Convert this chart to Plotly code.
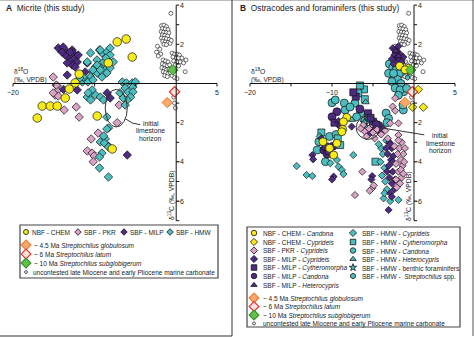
import plotly.graph_objects as go

# ---------------- DATA (delta18O, delta13C, per mille VPDB) ----------------
# Panel A - micrite
A_chem_x = [-7.23, -6.13, -5.39, -8.33, -11.89, -12.38, -13.11, -13.6, -16.42, -15.44, -14.58, -17.03, -9.68, -7.84]
A_chem_y = [2.12, 2.27, 1.35, 1.05, 0.48, 0.03, -0.28, -0.74, -1.15, -1.15, -1.15, -1.76, -1.66, -3.34]

A_pkr_x = [-15.07, -14.58, -14.58, -14.83, -14.46, -13.73, -12.25, -11.89, -6.99, -7.23, -9.56, -10.42, -10.9, -10.3, -10.05, -10.17, -14.7, -15.07]
A_pkr_y = [0.33, -0.13, -0.38, -0.59, -0.64, -1.35, -1.2, -1.71, -1.1, -2.0, -2.53, -2.83, -3.44, -3.55, -3.7, -3.99, -0.08, -0.48]

A_milp_x = [-14.46, -13.85, -13.36, -12.75, -12.62, -13.24, -12.99, -12.38, -12.13, -12.75, -13.36, -12.01, -12.38, -13.6, -13.0, -14.0,
            -10.9, -11.15, -13.36, -12.13, -13.8, -8.46, -8.09, -8.33, -6.0]
A_milp_y = [1.81, 1.86, 1.61, 1.71, 1.56, 1.35, 1.1, 1.3, 1.1, 0.94, 1.05, 1.45, 0.84, 1.45, 1.6, 1.6,
            1.05, 0.59, 0.43, -0.33, -0.3, -0.48, -0.74, -3.19, -3.65]

A_hmw_x = [-10.5, -9.4, -9.1, -8.5, -8.1, -9.7, -8.9, -9.9, -9.3, -8.7, -8.1, -10.2, -9.7, -10.5, -11.15, -11.5, -10.8, -10.2, -8.5, -9.1,
           -7.7, -10.9, -8.1, -9.3, -8.6, -9.7, -10.2, -9.3, -11.4, -11.8,
           -6.6, -6.1, -5.4, -5.3, -6.25, -5.9, -5.3, -5.6, -6.0, -6.25, -6.9, -5.0, -6.5,
           -10.9, -10.5, -9.9, -9.3, -10.3, -10.8, -8.9, -8.5, -8.3,
           -8.5, -8.7, -9.3, -8.8, -8.3, -9.1, -9.4, -9.4, -8.3, -8.9]
A_hmw_y = [1.56, 1.71, 1.56, 1.61, 1.45, 1.2, 1.1, 0.84, 0.79, 0.69, 0.79, 0.59, 0.54, 0.33, 0.18, 0.08, 0.08, 0.18, 0.54, 0.33,
           1.1, 1.1, 1.81, 1.71, 1.3, 0.94, 0.69, 0.69, 0.33, 0.28,
           0.08, 0.03, 0.03, -0.18, -0.23, -0.43, -0.43, -0.69, -0.84, -1.1, -0.48, 0.08, -0.74,
           -0.69, -0.84, -0.59, -0.69, -0.33, -0.48, -0.84, -1.71, -2.27,
           -2.32, -2.83, -2.98, -3.04, -3.24, -3.55, -3.75, -4.31, -4.77, -2.68]

# Streptochilus reference values (both panels)
S45_x, S45_y = [-1.1], [-0.97]
S6_x, S6_y = [-0.2], [-0.42]
S10_x, S10_y = [-0.4], [0.69]

# uncontested late Miocene / early Pliocene marine carbonate (both panels)
U_x = [-1.8, -1.5, -1.2, -1.7, -1.35, -1.0, -1.85, -1.55, -1.2, -0.9, -1.7, -1.4, -1.05, -1.8, -1.5, -1.2, -0.85, -1.65, -1.35, -1.0,
       -0.75, -1.5, -1.2, -0.6, -0.65,
       -2.3, -2.0, -2.4, -1.9, -2.2,
       -0.5, -0.2, 0.1, 0.4, -0.4, 0.0, 0.3, 0.7, -0.3, 0.1, 0.5, 0.9, 1.2, -0.1, 0.3, 1.1,
       -1.6, -1.3, -1.0, -1.7, -1.4, -1.1, -0.8, -1.75, -1.45, -1.2, -0.9, -1.6, -1.3, -1.0, -0.7, -1.4, -1.1, -0.5, -0.2, 0.1,
       -0.3, -0.2, -0.1]
U_y = [2.95, 2.98, 2.9, 2.8, 2.78, 2.75, 2.65, 2.62, 2.6, 2.58, 2.48, 2.45, 2.42, 2.32, 2.3, 2.28, 2.25, 2.15, 2.12, 2.1,
       2.05, 2.0, 1.98, 2.2, 3.58,
       1.9, 1.75, 1.6, 1.5, 1.4,
       1.55, 1.5, 1.5, 1.45, 1.35, 1.3, 1.3, 1.3, 1.15, 1.1, 1.1, 1.05, 1.2, 0.95, 0.9, 0.6,
       1.2, 1.15, 1.1, 1.0, 0.95, 0.9, 0.95, 0.8, 0.75, 0.7, 0.72, 0.6, 0.55, 0.5, 0.55, 0.4, 0.35, 0.4, 0.3, 0.25,
       -0.7, -1.0, -1.25]

# Panel B - ostracodes and foraminifers
B_chem_can_x = [-1.75, -0.65, -1.1, -8.2, -8.6, -8.7, -8.8, -11.1, -9.4, -9.8, -10.3]
B_chem_can_y = [0.89, 0.78, 0.7, -1.73, -1.95, -2.34, -2.46, -2.97, -3.05, -3.65, -3.3]
B_chem_cyp_x = [0.53, -0.16, 1.14]
B_chem_cyp_y = [-0.3, -1.21, -1.21]

B_pkr_x = [-2.3, -2.6, -2.3, -2.9, -1.9, -1.9, -6.2, -6.5, -6.0, -5.5, -5.0, -4.5, -4.0, -3.5, -5.8, -4.8, -3.2, -1.5, -1.8, -1.3,
           -1.6, -1.4, -1.9, -1.5, -2.0, -2.2, -1.7, -2.1, -2.4, -1.2, -1.9, -6.3, -7.2, -5.1, -5.4, -4.9, -1.1, -1.6, -2.2, -1.3]
B_pkr_y = [-0.75, -1.18, -1.39, -2.03, -2.63, -2.03, -2.12, -2.3, -2.45, -2.3, -2.5, -2.35, -2.6, -2.4, -2.7, -2.8, -2.8, -3.0, -3.3, -3.6,
           -3.9, -4.2, -4.5, -4.8, -3.6, -4.1, -5.1, -5.3, -3.2, -4.0, -2.9, -4.5, -5.69, -5.35, -5.47, -5.2, -3.3, -4.4, -4.9, -4.6]

B_milp_cyp_x = [-2.6, -2.3, -2.0, -1.7, -2.4, -2.1, -1.8, -2.7, -1.5, -2.2, -1.3, -2.5, -1.9, -5.2, -4.7, -4.2, -3.8, -5.5, -3.0, -2.7,
                -3.2, -2.8, -3.1, -2.6, -3.0, -2.7, -2.4, -2.9, -2.7, -3.1, -2.5, -3.4, -2.3, -3.3, -2.9, -2.6, -12.4, -12.3, -9.8, -10.0,
                -5.1, -5.2, -11.3, -7.6]
B_milp_cyp_y = [1.8, 1.7, 1.6, 1.5, 1.45, 1.3, 1.2, 1.25, 1.1, 1.05, 1.35, 1.0, 1.9, -2.4, -2.3, -2.5, -2.3, -2.6, -3.0, -3.3,
                -3.6, -3.9, -4.2, -4.5, -4.8, -5.1, -5.4, -5.6, -5.78, -6.45, -3.7, -3.3, -4.9, -4.5, -3.1, -4.0, -3.65, -3.87, -4.75, -4.9,
                -4.72, -4.9, -2.8, -2.2]
B_milp_cyt_x = [-7.1, -7.4, -5.6, -5.0, -10.8, -10.4, -5.3, -9.7, -4.6]
B_milp_cyt_y = [-0.67, -0.45, -1.52, -1.95, -3.22, -3.45, -1.75, -2.0, -2.1]
B_milp_can_x = [-9.4, -10.0, -9.0, -11.0, -10.6, -9.9, -6.6, -4.3]
B_milp_can_y = [-1.44, -1.7, -2.1, -3.4, -3.6, -3.2, -1.3, -2.15]
B_milp_het_x = [-2.2, -1.9, -9.2]
B_milp_het_y = [1.65, 1.4, -1.9]

B_hmw_cyp_x = [-14.3, -13.1, -12.4, -10.2, -9.4, -9.2, -8.8, -8.6, -7.4, -3.7, -1.9, -4.0, -3.8, -4.1, -3.6, -3.9, -3.5, -3.3, -3.6, -4.3,
               -3.4, -2.9, -11.5]
B_hmw_cyp_y = [-4.21, -4.67, -4.72, -4.07, -3.9, -4.24, -4.41, -4.62, -3.65, -5.86, -5.94, -3.3, -3.6, -4.0, -4.3, -4.7, -5.0, -5.4, -5.6, -3.1,
               -2.9, -6.0, -2.7]
B_hmw_cyt_x = [-6.1, -6.8, -6.0, -9.0, -4.7, -9.3, -11.3, -6.6]
B_hmw_cyt_y = [-0.3, -0.5, -0.8, -3.14, -3.99, -2.8, -2.5, -0.1]
B_hmw_can_x = [-3.0, -2.6, -2.2, -1.8, -2.8, -2.4, -2.0, -1.6, -2.7, -3.1, -2.5, -2.3, -1.25, -1.7, -0.9, -1.3, -1.35, -8.5, -7.2, -10.0,
               -9.6, -8.4, -11.6, -11.8, -10.8, -10.3, -9.5, -3.4, -3.1, -3.3, -6.5, -6.0, -7.0, -7.8, -1.9]
B_hmw_can_y = [1.0, 0.8, 0.7, 0.5, 0.5, 0.3, 0.2, 0.0, 0.1, 0.52, 0.52, -0.23, -0.42, -0.33, -0.25, -1.35, -1.1, -1.0, -1.0, -0.98,
               -0.84, -1.35, -2.97, -3.39, -3.99, -2.7, -2.6, -1.51, -1.78, -2.0, -1.5, -1.9, -1.7, -1.2, -0.6]
B_hmw_het_x = [-7.6, -5.9]
B_hmw_het_y = [-1.85, -0.95]
B_hmw_ben_x = [-6.0, -5.5, -5.8]
B_hmw_ben_y = [-2.0, -1.9, -2.3]
B_hmw_str_x = [-0.8, -0.5]
B_hmw_str_y = [0.3, 0.55]

# axis ticks
X_TICKS = [-20, -15, -10, -5, 5]
A_XLABELS = {-20: "\u221220", 5: "5"}
B_XLABELS = {-20: "\u221220", -10: "\u221210", 5: "5"}
Y_TICKS = list(range(-7, 5))
Y_LABELS = {4: "4", 2: "2", -2: "\u22122", -4: "\u22124", -6: "\u22126"}

# ---------------- STYLE ----------------
YEL, PINK, PUR, TEAL = "#F7EC1A", "#D9A2C6", "#4E2A82", "#4CBEC0"
FONT = "Arial, Liberation Sans, sans-serif"
TXT = "#222"

fig = go.Figure()


def pts(xs, ys, symbol, color, size, xa, ya, lc="#111", lw=0.7):
    fig.add_trace(go.Scatter(x=xs, y=ys, mode="markers", xaxis=xa, yaxis=ya,
                             marker=dict(symbol=symbol, color=color, size=size, line=dict(color=lc, width=lw)),
                             showlegend=False, hoverinfo="skip", cliponaxis=False))


# Panel A
pts(A_pkr_x, A_pkr_y, "diamond", PINK, 6.5, "x", "y")
pts(A_milp_x, A_milp_y, "diamond", PUR, 6.5, "x", "y")
pts(A_hmw_x, A_hmw_y, "diamond", TEAL, 6.5, "x", "y")
pts(A_chem_x, A_chem_y, "circle", YEL, 8.5, "x", "y")
pts(U_x, U_y, "circle", "white", 4, "x", "y", lw=0.6)
pts(S45_x, S45_y, "diamond", "#F7A86A", 8, "x", "y", lc="#F07F30", lw=1)
pts(S6_x, S6_y, "diamond", "#FCE3E0", 8, "x", "y", lc="#E3362C", lw=1.2)
pts(S10_x, S10_y, "diamond", "#62C04A", 8, "x", "y", lc="#3A8E2A", lw=1)

# Panel B
pts(U_x, U_y, "circle", "white", 4, "x2", "y2", lw=0.6)
pts(B_hmw_can_x, B_hmw_can_y, "circle", TEAL, 8, "x2", "y2")
pts(B_hmw_cyt_x, B_hmw_cyt_y, "square", TEAL, 7, "x2", "y2")
pts(B_hmw_cyp_x, B_hmw_cyp_y, "diamond", TEAL, 5.5, "x2", "y2")
pts(B_hmw_het_x, B_hmw_het_y, "triangle-up", TEAL, 6.5, "x2", "y2")
pts(B_hmw_ben_x, B_hmw_ben_y, "star", TEAL, 7, "x2", "y2")
pts(B_hmw_str_x, B_hmw_str_y, "hexagon", TEAL, 5, "x2", "y2")
pts(B_milp_can_x, B_milp_can_y, "circle", PUR, 8, "x2", "y2")
pts(B_milp_cyt_x, B_milp_cyt_y, "square", PUR, 7, "x2", "y2")
pts(B_milp_cyp_x, B_milp_cyp_y, "diamond", PUR, 5.5, "x2", "y2")
pts(B_milp_het_x, B_milp_het_y, "triangle-up", PUR, 6.5, "x2", "y2")
pts(B_pkr_x, B_pkr_y, "diamond", PINK, 5.5, "x2", "y2")
pts(B_chem_can_x, B_chem_can_y, "circle", YEL, 8, "x2", "y2")
pts(B_chem_cyp_x, B_chem_cyp_y, "diamond", YEL, 6.5, "x2", "y2")
pts(S45_x, S45_y, "diamond", "#F7A86A", 8, "x2", "y2", lc="#F07F30", lw=1)
pts(S6_x, S6_y, "diamond", "#FCE3E0", 8, "x2", "y2", lc="#E3362C", lw=1.2)
pts(S10_x, S10_y, "diamond", "#62C04A", 8, "x2", "y2", lc="#3A8E2A", lw=1)

shapes, ann = [], []


def panel_axes(xa, ya, xlabels, ytl, xtl):
    line = dict(color="#111", width=1)
    shapes.append(dict(type="line", xref=xa, yref=ya, x0=-20, x1=5, y0=0, y1=0, line=line))
    shapes.append(dict(type="line", xref=xa, yref=ya, x0=0, x1=0, y0=-7, y1=4, line=line))
    for t in X_TICKS:
        shapes.append(dict(type="line", xref=xa, yref=ya, x0=t, x1=t, y0=0, y1=-xtl, line=line))
        if t in xlabels:
            ann.append(dict(xref=xa, yref=ya, x=t, y=-0.45, text=xlabels[t], showarrow=False,
                            xanchor="center", yanchor="middle", font=dict(size=7, color=TXT, family=FONT)))
    for t in Y_TICKS:
        shapes.append(dict(type="line", xref=xa, yref=ya, x0=0, x1=ytl, y0=t, y1=t, line=line))
        if t in Y_LABELS:
            ann.append(dict(xref=xa, yref=ya, x=3.3 * ytl, y=t, text=Y_LABELS[t], showarrow=False,
                            xanchor="right", yanchor="middle", font=dict(size=7, color=TXT, family=FONT)))


panel_axes("x", "y", A_XLABELS, 0.37, 0.15)
panel_axes("x2", "y2", B_XLABELS, 0.37, 0.15)

# limestone horizon ellipses + labels
shapes.append(dict(type="circle", xref="x", yref="y", x0=-8.7, x1=-6.0, y0=-2.22, y1=-0.3, line=dict(color="#333", width=1)))
shapes.append(dict(type="path", xref="x", yref="y", path="M -6.25,-1.8 Q -5.3,-2.1 -4.4,-2.1", line=dict(color="#333", width=1)))
shapes.append(dict(type="circle", xref="x2", yref="y2", x0=-7.05, x1=-4.15, y0=-2.85, y1=-1.66, line=dict(color="#333", width=1)))
shapes.append(dict(type="line", xref="x2", yref="y2", x0=-4.15, x1=1.25, y0=-2.25, y1=-2.62, line=dict(color="#333", width=1)))
for xa, ya, xc, ys in [("x", "y", -3.1, [-2.02, -2.42, -2.83]), ("x2", "y2", 3.2, [-2.63, -3.04, -3.44])]:
    for word, yy in zip(["initial", "limestone", "horizon"], ys):
        ann.append(dict(xref=xa, yref=ya, x=xc, y=yy, text=word, showarrow=False, xanchor="center",
                        yanchor="middle", font=dict(size=6.8, color=TXT, family=FONT)))


def ptxt(x, y, text, size=6.5, anchor="left", angle=0):
    ann.append(dict(xref="x3", yref="y3", x=x, y=y, text=text, showarrow=False, xanchor=anchor,
                    yanchor="middle", textangle=angle, font=dict(size=size, color=TXT, family=FONT)))


# titles and axis names
ptxt(4, 8, "<b>A</b>  Micrite (this study)", size=8.4)
ptxt(238, 8, "<b>B</b>  Ostracodes and foraminifers (this study)", size=8.4)
for x0 in (12, 249):
    ptxt(x0, 71, "\u03b4<sup>18</sup>O", size=6.8)
    ptxt(x0, 79.5, "(\u2030, VPDB)", size=6.6)
ptxt(171, 195, "\u03b4<sup>13</sup>C (\u2030, VPDB)", size=6.8, anchor="center", angle=-90)
ptxt(408, 196, "\u03b4<sup>13</sup>C (\u2030, VPDB)", size=6.8, anchor="center", angle=-90)

# frames
shapes.append(dict(type="line", xref="x3", yref="y3", x0=0, x1=474, y0=0.5, y1=0.5, line=dict(color="#bbb", width=1)))
shapes.append(dict(type="line", xref="x3", yref="y3", x0=232, x1=232, y0=0, y1=336, line=dict(color="#333", width=1)))
shapes.append(dict(type="line", xref="x3", yref="y3", x0=0, x1=232, y0=336, y1=336, line=dict(color="#333", width=1)))
shapes.append(dict(type="line", xref="x3", yref="y3", x0=473, x1=473, y0=0, y1=336, line=dict(color="#555", width=1)))

# legend A
shapes.append(dict(type="rect", xref="x3", yref="y3", x0=20, x1=218, y0=225, y1=278, line=dict(color="#444", width=1.2)))
legA_row = [(26, 30, "circle", YEL, "NBF - CHEM"), (78, 82, "diamond", PINK, "SBF - PKR"),
            (124, 128, "diamond", PUR, "SBF - MILP"), (170, 174, "diamond", TEAL, "SBF - HMW")]
for mx, tx, sym, col, lab in legA_row:
    pts([mx], [232], sym, col, 5, "x3", "y3", lw=0.8)
    ptxt(tx, 232.5, lab, size=6.5)
spec = [("#F7A86A", "#F07F30", "~ 4.5 Ma <i>Streptochilus globulosum</i>"),
        ("#FCE3E0", "#E3362C", "~ 6 Ma <i>Streptochilus latum</i>"),
        ("#62C04A", "#3A8E2A", "~ 10 Ma <i>Streptochilus subglobigerum</i>")]
for (fc, lc, lab), yy in zip(spec, [245, 254, 263]):
    pts([26], [yy], "diamond", fc, 7.5, "x3", "y3", lc=lc, lw=1.1)
    ptxt(32, yy + 0.5, lab, size=6.5)
pts([26], [272], "circle", "#ddd", 3, "x3", "y3", lw=0.6)
ptxt(31, 272.5, "uncontested late Miocene and early Pliocene marine carbonate", size=6.5)

# legend B
shapes.append(dict(type="rect", xref="x3", yref="y3", x0=247, x1=460, y0=227, y1=327, line=dict(color="#444", width=1.2)))
rows = [233, 242, 250.5, 259, 267.5, 276, 285]
col1 = [("circle", YEL, "NBF - CHEM - <i>Candona</i>"), ("diamond", YEL, "NBF - CHEM - <i>Cyprideis</i>"),
        ("diamond", PINK, "SBF - PKR - <i>Cyprideis</i>"), ("diamond", PUR, "SBF - MILP - <i>Cyprideis</i>"),
        ("square", PUR, "SBF - MILP - <i>Cytheromorpha</i>"), ("circle", PUR, "SBF - MILP - <i>Candona</i>"),
        ("triangle-up", PUR, "SBF - MILP - <i>Heterocypris</i>")]
col2 = [("diamond", TEAL, "SBF - HMW - <i>Cyprideis</i>"), ("square", TEAL, "SBF - HMW - <i>Cytheromorpha</i>"),
        ("circle", TEAL, "SBF - HMW - <i>Candona</i>"), ("triangle-up", TEAL, "SBF - HMW - <i>Heterocypris</i>"),
        ("star", TEAL, "SBF - HMW - benthic foraminifers"), ("hexagon", TEAL, "SBF - HMW -  <i>Streptochilus</i> spp.")]
for (sym, col, lab), yy in zip(col1, rows):
    pts([254], [yy], sym, col, 5.5, "x3", "y3", lw=0.8)
    ptxt(261, yy + 0.5, lab, size=6.5)
for (sym, col, lab), yy in zip(col2, rows):
    pts([353], [yy], sym, col, 5.5, "x3", "y3", lw=0.8)
    ptxt(360, yy + 0.5, lab, size=6.5)
for (fc, lc, lab), yy in zip(spec, [298, 306.5, 315]):
    pts([254], [yy], "diamond", fc, 7.5, "x3", "y3", lc=lc, lw=1.1)
    ptxt(261, yy + 0.5, lab, size=6.5)
pts([254], [323.5], "circle", "#ddd", 3, "x3", "y3", lw=0.6)
ptxt(261, 324, "uncontested late Miocene and early Pliocene marine carbonate", size=6.5)

YR = [-12.985, 4.26]
fig.update_layout(
    width=474, height=338, autosize=False, margin=dict(l=0, r=0, t=0, b=0),
    paper_bgcolor="white", plot_bgcolor="rgba(0,0,0,0)", showlegend=False,
    font=dict(family=FONT, color=TXT),
    xaxis=dict(domain=[0, 234 / 474], range=[-21.593, 7.083], visible=False, anchor="y"),
    yaxis=dict(domain=[0, 1], range=YR, visible=False, anchor="x"),
    xaxis2=dict(domain=[236 / 474, 1], range=[-21.707, 7.317], visible=False, anchor="y2"),
    yaxis2=dict(domain=[0, 1], range=YR, visible=False, anchor="x2"),
    xaxis3=dict(domain=[0, 1], range=[0, 474], visible=False, anchor="y3"),
    yaxis3=dict(domain=[0, 1], range=[338, 0], visible=False, anchor="x3"),
    shapes=shapes, annotations=ann,
)
fig.write_html("out.html")
